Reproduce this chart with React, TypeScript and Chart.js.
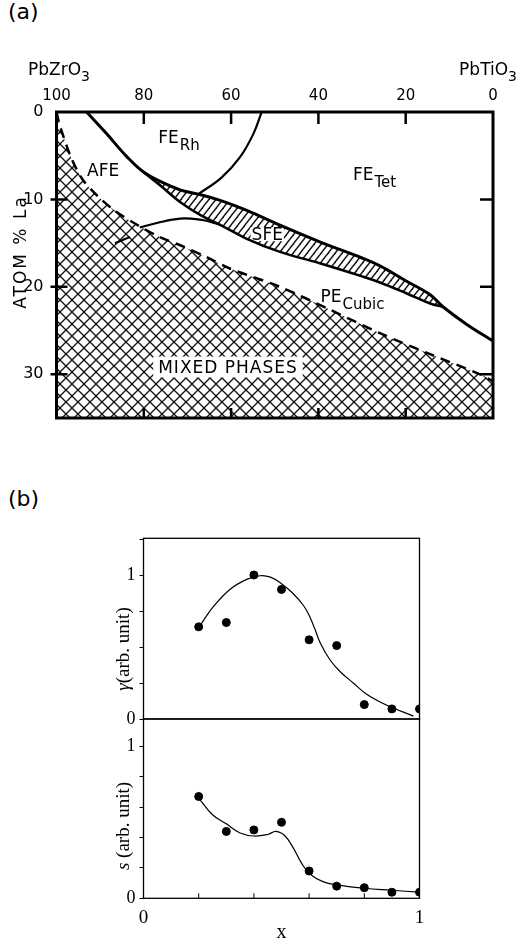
import React, { useEffect, useRef } from 'react';
import { Chart, registerables } from 'chart.js';

Chart.register(...registerables);

// ---------------- Panel (a): PLZT phase diagram ----------------
// x: mol % PbZrO3 (100 at left, 0 at right), y: atom % La (0 at top)
const xTicksA = [100, 80, 60, 40, 20, 0];
const yTicksA = [0, 10, 20, 30];
const innerTicksXA = [80, 60, 40, 20];
const innerTicksYA = [10, 20, 30];

// dashed boundary of the mixed-phase region
const mixedBoundary = [
  [100, 0], [99.2, 1.6], [96.5, 5.4], [93.9, 7.8], [90.4, 9.7], [86.6, 11.3],
  [80.9, 13.1], [76.3, 14.3], [70.9, 15.4], [65.6, 16.6], [60.3, 17.9],
  [48.8, 20.0], [37.4, 22.6], [25.9, 25.3], [14.4, 27.7], [3, 30.0], [0, 30.8],
];
// FE_Rh left boundary continuing as the upper edge of the SFE band
const upperBoundary = [
  [93.1, 0], [88.5, 2.5], [83.9, 5.1], [80, 6.9], [76, 8.0], [71.7, 8.9],
  [67.5, 9.4], [62.5, 10.1], [56.4, 11.25], [48.8, 12.95], [39.7, 14.85],
  [30, 16.7], [25.9, 17.6], [20, 19.3], [14.4, 20.9], [11.4, 22.3], [6, 24.3], [0, 26.2],
];
// lower edge of the SFE band
const sfeLower = [
  [80, 6.9], [76, 8.5], [71.7, 10.3], [67, 11.8], [62.5, 12.9], [56.4, 14.5],
  [48.8, 16.0], [39.7, 17.3], [30, 18.8], [25.9, 19.5], [20, 20.7],
  [14.4, 21.9], [11.4, 22.3],
];
// FE_Rh right boundary
const rhBoundary = [[53, 0], [54.9, 2.5], [58, 5.2], [62.2, 7.5], [67.5, 9.4]];
// AFE lower boundary
const afeBoundary = [[80.9, 13.2], [77, 12.7], [71.7, 12.2], [67.1, 12.3], [64.5, 12.6], [62.5, 12.9]];
const afeStub = [[86.6, 15.0], [83.2, 14.3]];

const phaseLabels = [
  { main: 'FE', sub: 'Rh', x: 76.7, y: 3.6, clear: false },
  { main: 'AFE', sub: '', x: 93.0, y: 7.3, clear: false },
  { main: 'FE', sub: 'Tet', x: 32.1, y: 7.8, clear: false },
  { main: 'SFE', sub: '', x: 55.3, y: 14.66, clear: true },
  { main: 'PE', sub: 'Cubic', x: 39.5, y: 21.7, clear: false },
  { main: 'MIXED PHASES', sub: '', x: 76.7, y: 29.8, clear: true },
];

// ---------------- Panel (b) ----------------
const xB = [0.2, 0.3, 0.4, 0.5, 0.6, 0.7, 0.8, 0.9, 1.0];
const gammaPts = [0.64, 0.67, 1.0, 0.9, 0.55, 0.51, 0.1, 0.07, 0.07];
const sPts = [0.67, 0.44, 0.45, 0.5, 0.18, 0.08, 0.07, 0.04, 0.04];
const gammaFitX = [0.195, 0.253, 0.313, 0.374, 0.422, 0.46, 0.5, 0.54, 0.579, 0.6, 0.62, 0.64, 0.676, 0.712, 0.76, 0.81, 0.88, 0.978];
const gammaFitY = [0.62, 0.78, 0.9, 0.97, 0.995, 0.985, 0.94, 0.875, 0.79, 0.72, 0.63, 0.53, 0.41, 0.33, 0.25, 0.17, 0.097, 0.02];
const sFitX = [0.2, 0.25, 0.3, 0.35, 0.4, 0.45, 0.48, 0.513, 0.543, 0.573, 0.603, 0.65, 0.7, 0.8, 0.9, 1.0];
const sFitY = [0.66, 0.55, 0.49, 0.43, 0.41, 0.42, 0.44, 0.41, 0.33, 0.23, 0.16, 0.11, 0.088, 0.066, 0.053, 0.04];
const innerTicksXB = [0.2, 0.4, 0.6, 0.8];

const FONT_A = "'DejaVu Sans', 'Liberation Sans', sans-serif";
const FONT_B = "'Liberation Serif', 'Times New Roman', serif";

const A_TOP = 0, A_H = 440;
const B_TOP = 440, B_H = 300;
const C_TOP = 700, C_H = 241;
const BAND_INDEX = 5;

const pts = (arr: number[][]) => arr.map(([x, y]) => ({ x, y }));
const pairs = (xs: number[], ys: number[]) => xs.map((x, i) => ({ x, y: ys[i] }));

function makePattern(w: number, h: number, dirs: string[], lw: number) {
  const c = document.createElement('canvas');
  c.width = w; c.height = h;
  const g = c.getContext('2d')!;
  g.strokeStyle = '#111';
  g.lineWidth = lw;
  g.lineCap = 'square';
  for (const d of dirs) {
    for (const k of [-1, 0, 1]) {
      g.beginPath();
      if (d === '\\') { g.moveTo(k * w, 0); g.lineTo(k * w + w, h); }
      else { g.moveTo(k * w, h); g.lineTo(k * w + w, 0); }
      g.stroke();
    }
  }
  return g.createPattern(c, 'repeat')!;
}

function labelWidths(ctx: CanvasRenderingContext2D, l: any) {
  ctx.font = `17px ${FONT_A}`;
  (ctx as any).letterSpacing = l.main.length > 4 ? '1px' : '0px';
  const w1 = ctx.measureText(l.main).width;
  ctx.font = `15px ${FONT_A}`;
  (ctx as any).letterSpacing = '0px';
  const w2 = l.sub ? ctx.measureText(l.sub).width : 0;
  return [w1, w2];
}

const panelAPlugin = {
  id: 'panelA',
  afterDatasetDraw(chart: any, args: any) {
    if (args.index !== BAND_INDEX) return;
    const { ctx } = chart;
    const xs = chart.scales.x, ys = chart.scales.y;
    ctx.save();
    for (const l of phaseLabels) {
      if (!l.clear) continue;
      const px = xs.getPixelForValue(l.x);
      const py = ys.getPixelForValue(l.y);
      const [w1, w2] = labelWidths(ctx, l);
      ctx.fillStyle = '#fff';
      if (l.main.length > 4) ctx.fillRect(px - 5, py - 16, w1 + w2 + 10, 21);
      else ctx.fillRect(px - 1, py - 13, w1 + w2 + 2, 14);
    }
    (ctx as any).letterSpacing = '0px';
    ctx.restore();
  },
  afterDatasetsDraw(chart: any) {
    const { ctx, chartArea: a } = chart;
    const xs = chart.scales.x, ys = chart.scales.y;
    ctx.save();
    ctx.fillStyle = '#000';
    ctx.textBaseline = 'alphabetic';
    ctx.textAlign = 'left';
    for (const l of phaseLabels) {
      const px = xs.getPixelForValue(l.x);
      const py = ys.getPixelForValue(l.y);
      const [w1] = labelWidths(ctx, l);
      ctx.font = `17px ${FONT_A}`;
      (ctx as any).letterSpacing = l.main.length > 4 ? '1px' : '0px';
      ctx.fillText(l.main, px, py);
      if (l.sub) {
        ctx.font = `15px ${FONT_A}`;
        (ctx as any).letterSpacing = '0px';
        ctx.fillText(l.sub, px + w1 + 1, py + 7);
      }
    }
    (ctx as any).letterSpacing = '0px';
    // frame
    ctx.strokeStyle = '#000';
    ctx.lineWidth = 3;
    ctx.strokeRect(a.left, a.top, a.right - a.left, a.bottom - a.top);
    ctx.lineWidth = 2.5;
    ctx.beginPath();
    for (const v of innerTicksXA) {
      const p = xs.getPixelForValue(v);
      ctx.moveTo(p, a.top); ctx.lineTo(p, a.top + 12);
      ctx.moveTo(p, a.bottom); ctx.lineTo(p, a.bottom - 10);
    }
    for (const v of innerTicksYA) {
      const p = ys.getPixelForValue(v);
      ctx.moveTo(a.left - 6, p); ctx.lineTo(a.left + 11, p);
      ctx.moveTo(a.right - 13, p); ctx.lineTo(a.right, p);
    }
    ctx.stroke();
    // end-member labels
    ctx.font = `17px ${FONT_A}`;
    ctx.fillText('PbZrO', 28, 75);
    const wz = ctx.measureText('PbZrO').width;
    ctx.font = `14px ${FONT_A}`;
    ctx.fillText('3', 28 + wz, 81);
    ctx.font = `17px ${FONT_A}`;
    const wt = ctx.measureText('PbTiO').width;
    ctx.font = `14px ${FONT_A}`;
    const w3 = ctx.measureText('3').width;
    const startT = 517 - wt - w3;
    ctx.font = `17px ${FONT_A}`;
    ctx.fillText('PbTiO', startT, 75);
    ctx.font = `14px ${FONT_A}`;
    ctx.fillText('3', startT + wt, 81);
    // y title
    ctx.save();
    ctx.translate(22, 252);
    ctx.rotate(-Math.PI / 2);
    ctx.font = `17px ${FONT_A}`;
    (ctx as any).letterSpacing = '2px';
    ctx.textAlign = 'center';
    ctx.textBaseline = 'middle';
    ctx.fillText('ATOM % La', 0, 0);
    ctx.restore();
    ctx.restore();
  },
};

function drawRotatedTitle(ctx: CanvasRenderingContext2D, sym: string, rest: string, cx: number, cy: number) {
  ctx.save();
  ctx.translate(cx, cy);
  ctx.rotate(-Math.PI / 2);
  ctx.fillStyle = '#000';
  ctx.textBaseline = 'alphabetic';
  ctx.textAlign = 'left';
  ctx.font = `italic 19px ${FONT_B}`;
  const w1 = ctx.measureText(sym).width;
  ctx.font = `19px ${FONT_B}`;
  const w2 = ctx.measureText(rest).width;
  const start = -(w1 + w2) / 2;
  ctx.font = `italic 19px ${FONT_B}`;
  ctx.fillText(sym, start, 6);
  ctx.font = `19px ${FONT_B}`;
  ctx.fillText(rest, start + w1, 6);
  ctx.restore();
}

const panelBPlugin = {
  id: 'panelB',
  afterDraw(chart: any) {
    const { ctx, chartArea: a } = chart;
    ctx.save();
    ctx.strokeStyle = '#000';
    ctx.lineWidth = 1.3;
    ctx.strokeRect(a.left, a.top, a.right - a.left, a.bottom - a.top);
    drawRotatedTitle(ctx, 'γ', '(arb. unit)', 123, 649 - B_TOP);
    ctx.restore();
  },
};

const panelCPlugin = {
  id: 'panelC',
  afterDraw(chart: any) {
    const { ctx, chartArea: a } = chart;
    const xs = chart.scales.x;
    ctx.save();
    ctx.strokeStyle = '#000';
    ctx.lineWidth = 1.3;
    ctx.strokeRect(a.left, a.top, a.right - a.left, a.bottom - a.top);
    ctx.lineWidth = 1;
    ctx.beginPath();
    for (const v of innerTicksXB) {
      const p = xs.getPixelForValue(v);
      ctx.moveTo(p, a.bottom); ctx.lineTo(p, a.bottom - 5);
    }
    ctx.stroke();
    drawRotatedTitle(ctx, 's', ' (arb. unit)', 123, 826 - C_TOP);
    ctx.restore();
  },
};

const only01 = (v: any) => {
  const n = Number(v);
  if (Math.abs(n) < 1e-9) return '0';
  if (Math.abs(n - 1) < 1e-9) return '1';
  return '';
};

export default function App() {
  const aRef = useRef<HTMLCanvasElement>(null);
  const bRef = useRef<HTMLCanvasElement>(null);
  const cRef = useRef<HTMLCanvasElement>(null);

  useEffect(() => {
    const charts: Chart[] = [];
    const cross = makePattern(12, 12, ['/', '\\'], 1.3);
    const slash = makePattern(7, 9, ['/'], 1.4);
    const bandPolygon = [...upperBoundary.filter(([x]) => x <= 80 && x >= 11.4), ...sfeLower.slice().reverse()];
    const lineDs = (data: any[], width: number, extra: any = {}) => ({
      data, showLine: true, pointRadius: 0, borderColor: '#000', borderWidth: width,
      tension: 0.4, fill: false, ...extra,
    });

    if (aRef.current) {
      charts.push(new Chart(aRef.current, {
        type: 'scatter',
        data: {
          // Chart.js draws datasets from the last index to the first,
          // so the filled regions come last in the list (drawn first).
          datasets: [
            lineDs(pts(upperBoundary), 3),
            lineDs(pts(sfeLower), 2.5),
            lineDs(pts(rhBoundary), 2.2),
            lineDs(pts(afeBoundary), 2.2),
            lineDs(pts(afeStub), 2.2, { tension: 0 }),
            lineDs(pts(bandPolygon), 0, { tension: 0, fill: 'shape', backgroundColor: slash, borderColor: 'rgba(0,0,0,0)' }),
            lineDs(pts(mixedBoundary), 2.5, { borderDash: [10, 7], tension: 0.3, fill: { value: 35 }, backgroundColor: cross }),
          ] as any,
        },
        options: {
          animation: false,
          responsive: false,
          maintainAspectRatio: false,
          layout: { padding: { left: 0, top: 0, right: 27, bottom: 22 } },
          plugins: { legend: { display: false }, tooltip: { enabled: false } },
          scales: {
            x: {
              type: 'linear', position: 'top', min: 0, max: 100, reverse: true,
              afterBuildTicks: (s: any) => { s.ticks = xTicksA.map((v) => ({ value: v })); },
              afterFit: (s: any) => { s.height = 112; },
              ticks: { color: '#000', font: { family: FONT_A, size: 15 }, padding: -1, maxRotation: 0, autoSkip: false },
              grid: { display: false },
              border: { display: false },
            },
            y: {
              type: 'linear', min: 0, max: 35, reverse: true,
              afterBuildTicks: (s: any) => { s.ticks = yTicksA.map((v) => ({ value: v })); },
              afterFit: (s: any) => { s.width = 56.5; },
              ticks: { color: '#000', font: { family: FONT_A, size: 16 }, padding: 5, autoSkip: false },
              grid: { display: false },
              border: { display: false },
            },
          },
        } as any,
        plugins: [panelAPlugin],
      }));
    }

    const commonB = (padding: any) => ({
      animation: false,
      responsive: false,
      maintainAspectRatio: false,
      layout: { padding },
      plugins: { legend: { display: false }, tooltip: { enabled: false } },
    });

    if (bRef.current) {
      charts.push(new Chart(bRef.current, {
        type: 'scatter',
        data: {
          datasets: [
            { data: pairs(gammaFitX, gammaFitY), showLine: true, pointRadius: 0, borderColor: '#000', borderWidth: 1.2, tension: 0.4 },
            { data: pairs(xB, gammaPts), pointRadius: 4, backgroundColor: '#000', borderColor: '#000' },
          ] as any,
        },
        options: {
          ...commonB({ left: 0, top: 538.3 - B_TOP, right: 520 - 419.5, bottom: B_TOP + B_H - 719 }),
          scales: {
            x: { type: 'linear', min: 0, max: 1, display: false },
            y: {
              type: 'linear', min: 0, max: 1.255,
              afterFit: (s: any) => { s.width = 143.5; },
              ticks: { stepSize: 0.25, includeBounds: false, callback: only01, color: '#000', font: { family: FONT_B, size: 18 }, padding: 4 },
              grid: { drawOnChartArea: false, drawTicks: true, tickLength: 4, color: '#000', lineWidth: 1 },
              border: { display: false },
            },
          },
        } as any,
        plugins: [panelBPlugin],
      }));
    }

    if (cRef.current) {
      charts.push(new Chart(cRef.current, {
        type: 'scatter',
        data: {
          datasets: [
            { data: pairs(sFitX, sFitY), showLine: true, pointRadius: 0, borderColor: '#000', borderWidth: 1.2, tension: 0.4 },
            { data: pairs(xB, sPts), pointRadius: 4, backgroundColor: '#000', borderColor: '#000' },
          ] as any,
        },
        options: {
          ...commonB({ left: 0, top: 719 - C_TOP, right: 520 - 419.5, bottom: 0 }),
          scales: {
            x: {
              type: 'linear', min: 0, max: 1,
              afterFit: (s: any) => { s.height = C_TOP + C_H - 898.3; },
              ticks: { stepSize: 0.2, callback: only01, autoSkip: false, maxRotation: 0, color: '#000', font: { family: FONT_B, size: 19 }, padding: 0 },
              grid: { display: false },
              border: { display: false },
              title: { display: true, text: 'x', color: '#000', font: { family: FONT_B, size: 20, lineHeight: 0.8 }, padding: 0 },
            },
            y: {
              type: 'linear', min: 0, max: 1.18,
              afterFit: (s: any) => { s.width = 143.5; },
              ticks: { stepSize: 0.2, includeBounds: false, callback: only01, color: '#000', font: { family: FONT_B, size: 18 }, padding: 4 },
              grid: { drawOnChartArea: false, drawTicks: true, tickLength: 4, color: '#000', lineWidth: 1 },
              border: { display: false },
            },
          },
        } as any,
        plugins: [panelCPlugin],
      }));
    }

    return () => charts.forEach((c) => c.destroy());
  }, []);

  const abs = (top: number, h: number) => ({ position: 'absolute' as const, left: 0, top, width: 520, height: h });
  const lbl = { position: 'absolute' as const, left: 8, fontFamily: FONT_A, fontSize: 22, lineHeight: '22px', color: '#000' };

  return (
    <div style={{ position: 'absolute', left: 0, top: 0, width: 520, height: 941, overflow: 'hidden', background: '#fff' }}>
      <div style={{ ...lbl, top: 1 }}>(a)</div>
      <div style={{ ...lbl, top: 488 }}>(b)</div>
      <canvas ref={aRef} width={520} height={A_H} style={abs(A_TOP, A_H)} />
      <canvas ref={bRef} width={520} height={B_H} style={abs(B_TOP, B_H)} />
      <canvas ref={cRef} width={520} height={C_H} style={abs(C_TOP, C_H)} />
    </div>
  );
}
